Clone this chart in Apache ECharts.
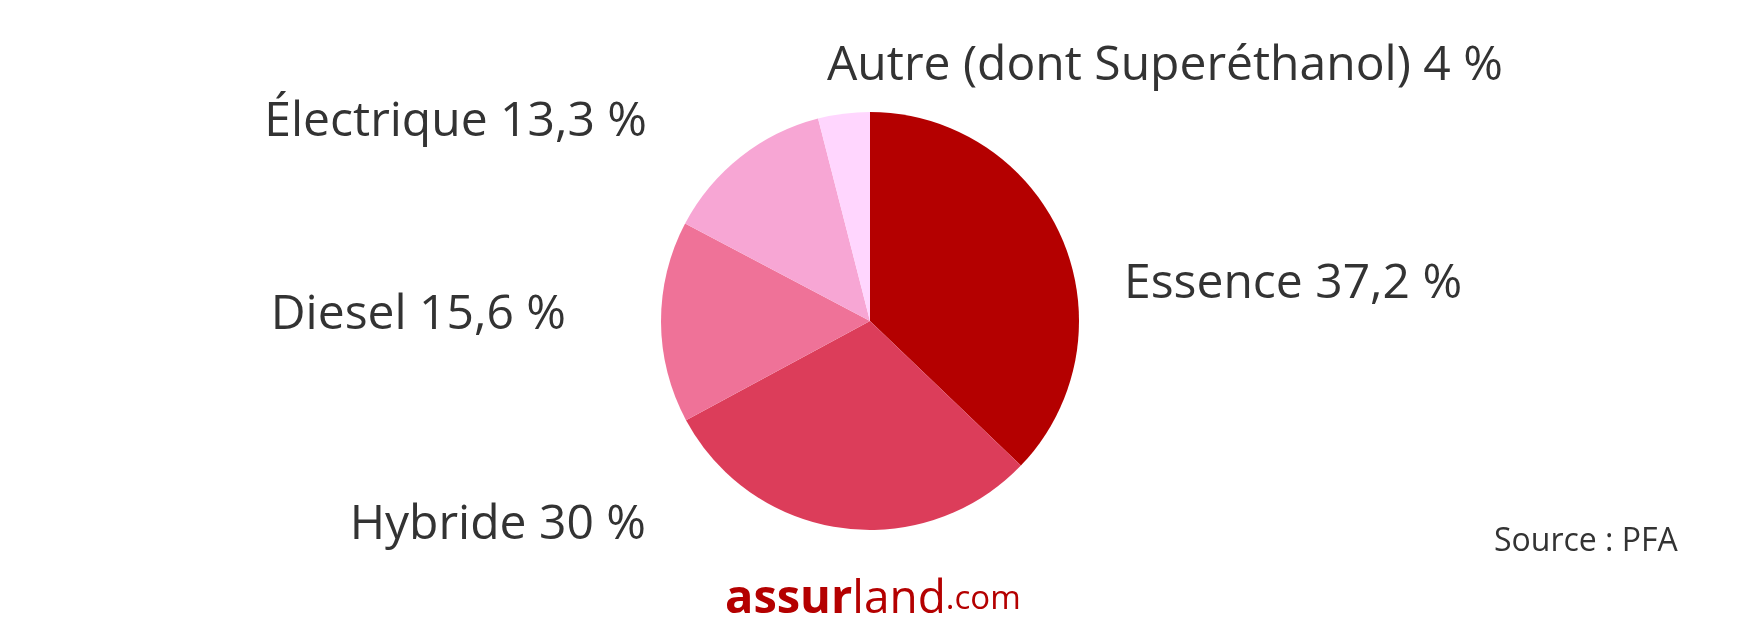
<!DOCTYPE html>
<html><head><meta charset="utf-8">
<script src="https://cdn.jsdelivr.net/npm/echarts@6/dist/echarts.min.js"></script>
<style>html,body{margin:0;padding:0;background:#fff}#c{width:1740px;height:620px}</style>
</head><body><div id="c"></div>
<script>
const categories = ['Essence', 'Hybride', 'Diesel', 'Électrique', 'Autre (dont Superéthanol)'];
const values = [37.2, 30, 15.6, 13.3, 4];
const valueLabels = ['37,2', '30', '15,6', '13,3', '4'];
const colors = ['#b40000', '#dc3d5a', '#ef7298', '#f7a6d4', '#ffd6fe'];
// label anchor placement: [x, y, align]
const labelPlace = [[1124, 284, 'left'], [646, 525, 'right'], [566, 315, 'right'], [647, 122, 'right'], [827, 66, 'left']];

const chart = echarts.init(document.getElementById('c'), null, {renderer: 'canvas'});
chart.setOption({
  animation: false,
  series: [{
    type: 'pie',
    center: [870, 321],
    radius: [0, 209],
    startAngle: 90,
    clockwise: true,
    avoidLabelOverlap: false,
    data: categories.map((c, i) => ({name: c, value: values[i], itemStyle: {color: colors[i]}})),
    label: {
      show: true,
      position: 'outside',
      formatter: p => p.name + ' ' + valueLabels[p.dataIndex] + ' %',
      fontFamily: 'Open Sans',
      fontSize: 48,
      color: '#333333'
    },
    labelLine: {show: false},
    labelLayout: p => ({x: labelPlace[p.dataIndex][0], y: labelPlace[p.dataIndex][1], align: labelPlace[p.dataIndex][2], verticalAlign: 'middle'}),
    emphasis: {disabled: true}
  }],
  graphic: [
    {type: 'text', left: 1494, top: 526, style: {text: 'Source : PFA', font: '32px "Open Sans"', fill: '#333333'}},
    {type: 'text', left: 725, top: 576, style: {
      text: '{a|assur}{b|land}{c|.com}',
      fill: '#b40000',
      rich: {
        a: {fontFamily: 'Open Sans', fontWeight: 'bold', fontSize: 47, fill: '#b40000'},
        b: {fontFamily: 'Open Sans', fontSize: 46, fill: '#b40000'},
        c: {fontFamily: 'Open Sans', fontSize: 33, fill: '#b40000'}
      }
    }}
  ]
});
</script></body></html>
